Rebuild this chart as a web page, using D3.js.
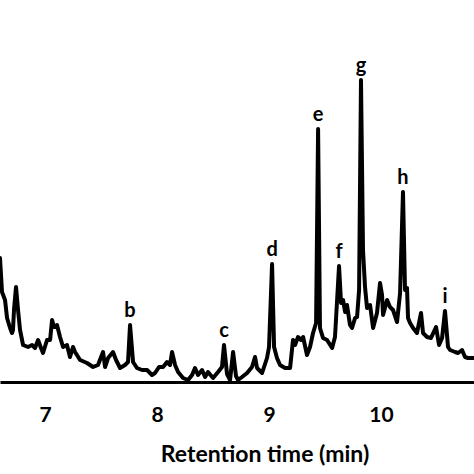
<!DOCTYPE html>
<html>
<head>
<meta charset="utf-8">
<script src="https://cdnjs.cloudflare.com/ajax/libs/d3/7.8.5/d3.min.js"></script>
<style>
  body { margin: 0; background: #fff; }
  svg { display: block; }
</style>
</head>
<body>
<svg width="474" height="474"></svg>
<script>
// retention time (min)
var times = [6.598, 6.616, 6.643, 6.661, 6.688, 6.705, 6.714, 6.723, 6.741, 6.759,
    6.777, 6.804, 6.848, 6.884, 6.911, 6.938, 6.964, 6.982, 7.018, 7.045,
    7.063, 7.080, 7.089, 7.107, 7.134, 7.161, 7.196, 7.223, 7.250, 7.268,
    7.313, 7.375, 7.429, 7.473, 7.518, 7.536, 7.563, 7.607, 7.634, 7.670,
    7.714, 7.741, 7.759, 7.786, 7.821, 7.866, 7.911, 7.955, 7.982, 8.018,
    8.054, 8.089, 8.116, 8.134, 8.161, 8.188, 8.232, 8.277, 8.313, 8.339,
    8.366, 8.402, 8.429, 8.455, 8.500, 8.545, 8.580, 8.598, 8.625, 8.652,
    8.679, 8.705, 8.723, 8.759, 8.804, 8.848, 8.875, 8.893, 8.938, 8.982,
    9.000, 9.027, 9.045, 9.071, 9.098, 9.143, 9.188, 9.214, 9.232, 9.259,
    9.286, 9.304, 9.339, 9.366, 9.393, 9.420, 9.438, 9.455, 9.482, 9.518,
    9.563, 9.589, 9.625, 9.643, 9.661, 9.679, 9.696, 9.723, 9.741, 9.768,
    9.786, 9.804, 9.821, 9.839, 9.857, 9.875, 9.902, 9.929, 9.964, 9.991,
    10.009, 10.018, 10.054, 10.080, 10.107, 10.143, 10.170, 10.196, 10.214, 10.232,
    10.241, 10.259, 10.286, 10.321, 10.357, 10.375, 10.411, 10.446, 10.491, 10.518,
    10.545, 10.571, 10.598, 10.616, 10.661, 10.688, 10.723, 10.750, 10.777, 10.830];

// abundance (arbitrary units)
var abundance = [123, 89, 81, 63, 53, 48, 51, 71, 94, 71,
    51, 36, 34, 36, 33, 41, 33, 28, 41, 41,
    61, 54, 54, 56, 44, 34, 36, 24, 34, 29,
    21, 18, 14, 16, 29, 14, 23, 29, 21, 13,
    16, 19, 56, 19, 13, 11, 11, 6, 8, 14,
    14, 19, 16, 29, 16, 9, 3, 1, 6, 13,
    6, 11, 4, 9, 3, 9, 14, 36, 7, 1,
    29, 5, 1, 4, 8, 14, 24, 13, 8, 23,
    34, 117, 34, 23, 16, 13, 13, 41, 36, 44,
    41, 44, 26, 34, 48, 58, 252, 53, 43, 41,
    33, 44, 115, 78, 81, 69, 76, 56, 53, 63,
    64, 91, 301, 131, 94, 73, 76, 53, 68, 98,
    86, 66, 81, 74, 71, 59, 88, 189, 91, 93,
    63, 58, 53, 48, 68, 48, 44, 43, 54, 36,
    43, 70, 34, 31, 29, 28, 31, 24, 23, 23];

var peakLetters = ["b", "c", "d", "e", "f", "g", "h", "i"];
var peakTimes = [7.759, 8.598, 9.027, 9.438, 9.625, 9.821, 10.196, 10.571];

var xTicks = [7, 8, 9, 10];

var svg = d3.select("svg"),
    width = +svg.attr("width"),
    baseY = 382;

var x = d3.scaleLinear().domain([6.598, 10.830]).range([0, width]);
var y = d3.scaleLinear().domain([0, 300]).range([381, 81]);

var data = times.map(function (t, i) {
    return { t: t, v: abundance[i] };
});

// chromatogram trace
svg.append("path")
    .datum(data)
    .attr("fill", "none")
    .attr("stroke", "#000")
    .attr("stroke-width", 4)
    .attr("stroke-linejoin", "round")
    .attr("stroke-linecap", "round")
    .attr("d", d3.line()
        .x(function (d) { return x(d.t); })
        .y(function (d) { return y(d.v); }));

// x axis
var ax = svg.append("g")
    .attr("transform", "translate(0," + baseY + ")")
    .call(d3.axisBottom(x).tickValues(xTicks).tickSize(0).tickFormat(d3.format("d")));

ax.select(".domain")
    .attr("stroke", "#000")
    .attr("stroke-width", 3);

ax.selectAll("text")
    .attr("y", 25)
    .style("font-family", "Lato, 'Open Sans', sans-serif")
    .style("font-weight", "bold")
    .style("font-size", "21px")
    .attr("fill", "#000");

svg.append("text")
    .attr("x", 265)
    .attr("y", 462)
    .attr("text-anchor", "middle")
    .style("font-family", "Lato, 'Open Sans', sans-serif")
    .style("font-weight", "bold")
    .style("font-size", "23px")
    .text("Retention time (min)");

// peak letters
svg.selectAll(".peak")
    .data(peakLetters)
    .enter().append("text")
    .attr("class", "peak")
    .attr("x", function (d, i) { return x(peakTimes[i]); })
    .attr("y", function (d, i) {
        var k = times.indexOf(peakTimes[i]);
        return y(abundance[k]) - 8;
    })
    .attr("text-anchor", "middle")
    .style("font-family", "Lato, 'Open Sans', sans-serif")
    .style("font-weight", "bold")
    .style("font-size", "20px")
    .text(function (d) { return d; });
</script>
</body>
</html>
